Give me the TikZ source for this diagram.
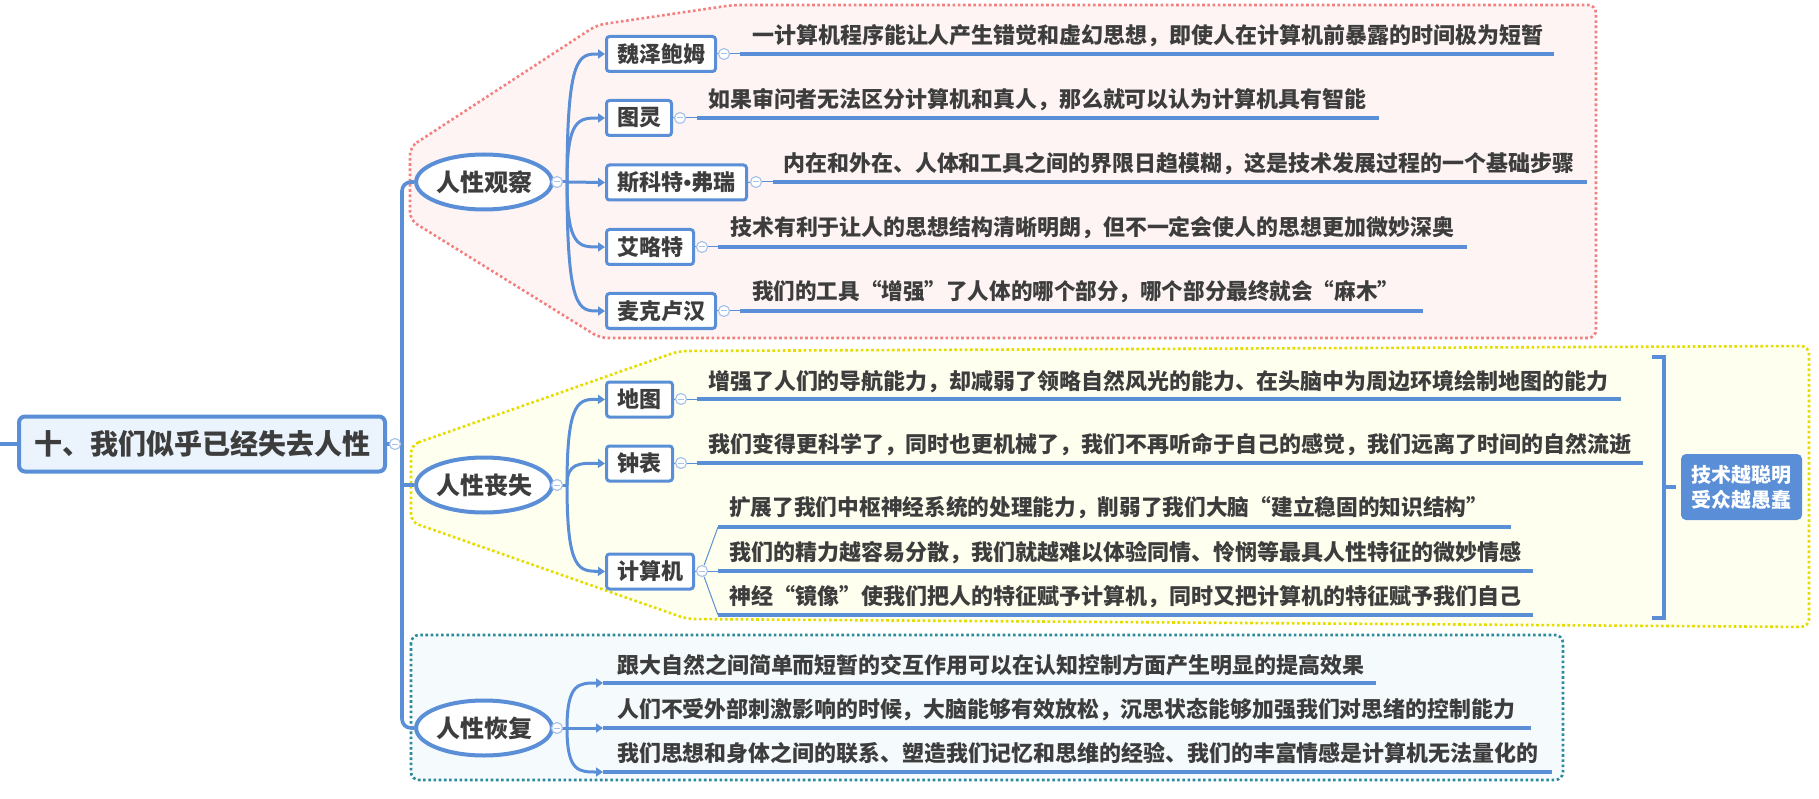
\documentclass[tikz,border=0pt]{standalone}
\usepackage{fontspec}
\usepackage{graphicx}
\setmainfont{Noto Sans CJK SC}
\newfontfamily\latinfont{Liberation Sans}
\usetikzlibrary{shapes.geometric,arrows.meta}
\definecolor{mblue}{HTML}{5A8ED6}
\definecolor{txt}{HTML}{3D3D3D}
\definecolor{rootfill}{HTML}{EBF3FC}
\definecolor{pinkfill}{HTML}{FEF4F4}
\definecolor{pinkline}{HTML}{F47F7F}
\definecolor{yelfill}{HTML}{FFFFF0}
\definecolor{yelline}{HTML}{E5DC00}
\definecolor{cyfill}{HTML}{F5FAFC}
\definecolor{cyline}{HTML}{2B8A9C}
\definecolor{colline}{HTML}{A9C3EA}
\newcommand\fitt[2]{\resizebox{#1pt}{\height}{#2}}
\pgfdeclarelayer{bg}
\pgfdeclarelayer{ln}
\pgfsetlayers{bg,ln,main}
\begin{document}
\begin{tikzpicture}[x=1pt,y=-1pt,
  region/.style={line width=2.6pt, dash pattern=on 2.6pt off 2.6pt, rounded corners=8pt},
  rootbox/.style={draw=mblue, fill=rootfill, line width=4pt, rounded corners=6pt, minimum width=366pt, minimum height=55pt, inner sep=0pt, text=txt, font=\fontsize{28}{32}\selectfont\bfseries},
  grp/.style={ellipse, draw=mblue, fill=white, line width=4pt, minimum width=127pt, minimum height=55pt, inner sep=0pt, text=txt, font=\fontsize{24}{28}\selectfont\bfseries},
  kid/.style={draw=mblue, fill=white, line width=3pt, rounded corners=3pt, minimum height=35pt, inner sep=0pt, text=txt, font=\fontsize{22}{26}\selectfont\bfseries},
  leaf/.style={anchor=west, inner sep=0pt, text=txt, font=\fontsize{22}{26}\selectfont\bfseries},
  uline/.style={draw=mblue, line width=3.2pt},
  thin/.style={draw=mblue, line width=1pt},
  trunk/.style={draw=mblue, line width=3.6pt, rounded corners=9pt},
  branch/.style={draw=mblue, line width=3pt, -{Triangle[length=7pt,width=9pt]}},
  col/.style={circle, draw=colline, fill=white, line width=1.2pt, minimum size=11pt, inner sep=0pt,
    path picture={\draw[colline, line width=1pt] ([xshift=-3pt]path picture bounding box.center) -- ([xshift=3pt]path picture bounding box.center);}},
  sumbox/.style={fill=mblue, rounded corners=5pt, minimum width=121pt, minimum height=66pt, inner sep=0pt, text=white, align=center, font=\fontsize{20}{25}\selectfont\bfseries}
]
\useasboundingbox (0,0) rectangle (1819,799);

% ---------- regions ----------
\begin{pgfonlayer}{bg}
\fill[white] (0,0) rectangle (1819,799);
\draw[region, draw=pinkline, fill=pinkfill] (410,147) -- (597,25) -- (733,5) -- (1596,5) -- (1596,338) -- (600,338) -- (410,220) -- cycle;
\draw[region, draw=yelline, fill=yelfill] (411,445) -- (679,351) -- (1809,346) -- (1809,627) -- (687,619) -- (411,522) -- cycle;
\draw[region, draw=cyline, fill=cyfill] (411,635) rectangle (1563,780);
\end{pgfonlayer}

% ---------- nodes ----------
\node[rootbox] (root) at (202,444) {十、我们似乎已经失去人性};
\node[grp] (g1) at (484,182) {人性观察};
\node[grp] (g2) at (484,485) {人性丧失};
\node[grp] (g3) at (484,728) {人性恢复};

\node[col] (c0) at (395,444) {};
\node[col] (cg1) at (557,182) {};
\node[col] (cg2) at (557,485) {};
\node[col] (cg3) at (557,728) {};

\node[kid, minimum width=109pt] (k11) at (661,54) {魏泽鲍姆};
\node[kid, minimum width=65pt] (k12) at (639,118) {图灵};
\node[kid, minimum width=140pt] (k13) at (676.5,182.5) {斯科特{\latinfont\bfseries •}弗瑞};
\node[kid, minimum width=87pt] (k14) at (650,247) {艾略特};
\node[kid, minimum width=109pt] (k15) at (661,311) {麦克卢汉};
\node[kid, minimum width=66pt] (k21) at (639.5,399.5) {地图};
\node[kid, minimum width=66pt] (k22) at (639.5,463.5) {钟表};
\node[kid, minimum width=87pt] (k23) at (650,571.5) {计算机};

\node[col] (ck11) at (724,54) {};
\node[col] (ck12) at (680,118) {};
\node[col] (ck13) at (756,182) {};
\node[col] (ck14) at (702,247) {};
\node[col] (ck15) at (724,311) {};
\node[col] (ck21) at (681,399) {};
\node[col] (ck22) at (681,463) {};
\node[col] (ck23) at (702,571) {};

\node[leaf] (l11) at (752,36) {\fitt{791}{一计算机程序能让人产生错觉和虚幻思想，即使人在计算机前暴露的时间极为短暂}};
\node[leaf] (l12) at (708,100) {\fitt{658}{如果审问者无法区分计算机和真人，那么就可以认为计算机具有智能}};
\node[leaf] (l13) at (783,164) {\fitt{791}{内在和外在、人体和工具之间的界限日趋模糊，这是技术发展过程的一个基础步骤}};
\node[leaf] (l14) at (730,228) {\fitt{724}{技术有利于让人的思想结构清晰明朗，但不一定会使人的思想更加微妙深奥}};
\node[leaf] (l15) at (752,292) {\fitt{647}{我们的工具“增强”了人体的哪个部分，哪个部分最终就会“麻木”}};
\node[leaf] (l21) at (708,382) {\fitt{900}{增强了人们的导航能力，却减弱了领略自然风光的能力、在头脑中为周边环境绘制地图的能力}};
\node[leaf] (l22) at (708,445) {\fitt{923}{我们变得更科学了，同时也更机械了，我们不再听命于自己的感觉，我们远离了时间的自然流逝}};
\node[leaf] (l23) at (729,508) {\fitt{759}{扩展了我们中枢神经系统的处理能力，削弱了我们大脑“建立稳固的知识结构”}};
\node[leaf] (l24) at (729,553) {\fitt{792}{我们的精力越容易分散，我们就越难以体验同情、怜悯等最具人性特征的微妙情感}};
\node[leaf] (l25) at (729,597) {\fitt{792}{神经“镜像”使我们把人的特征赋予计算机，同时又把计算机的特征赋予我们自己}};
\node[leaf] (l31) at (617,665) {\fitt{747}{跟大自然之间简单而短暂的交互作用可以在认知控制方面产生明显的提高效果}};
\node[leaf] (l32) at (617,710) {\fitt{898}{人们不受外部刺激影响的时候，大脑能够有效放松，沉思状态能够加强我们对思绪的控制能力}};
\node[leaf] (l33) at (617,753) {\fitt{921}{我们思想和身体之间的联系、塑造我们记忆和思维的经验、我们的丰富情感是计算机无法量化的}};

\node[sumbox] (sum) at (1741.5,487) {技术越聪明\\受众越愚蠢};

% ---------- coordinates ----------
\coordinate (edge) at (0,444);
\coordinate (jr) at (402,444);
\coordinate (t1) at (402,182);
\coordinate (t2) at (402,485);
\coordinate (t3) at (402,728);
\coordinate (b1) at (567,182);
\coordinate (b2) at (567,485);
\coordinate (b3) at (567,728);
\coordinate (u11s) at (740,54);  \coordinate (u11e) at (1554,54);
\coordinate (u12s) at (697,118); \coordinate (u12e) at (1379,118);
\coordinate (u13s) at (773,182); \coordinate (u13e) at (1587,182);
\coordinate (u14s) at (718,247); \coordinate (u14e) at (1467,247);
\coordinate (u15s) at (740,311); \coordinate (u15e) at (1423,311);
\coordinate (u21s) at (697,399); \coordinate (u21e) at (1621,399);
\coordinate (u22s) at (697,463); \coordinate (u22e) at (1643,463);
\coordinate (u23s) at (718,527); \coordinate (u23e) at (1511,527);
\coordinate (u24s) at (718,571); \coordinate (u24e) at (1533,571);
\coordinate (u25s) at (718,615); \coordinate (u25e) at (1533,615);
\coordinate (u31s) at (603,683); \coordinate (u31e) at (1376,683);
\coordinate (u32s) at (603,728); \coordinate (u32e) at (1531,728);
\coordinate (u33s) at (603,772); \coordinate (u33e) at (1552,772);
\coordinate (brt) at (1652,357);
\coordinate (brb) at (1652,618);
\coordinate (brm) at (1664,487);

% ---------- connectors ----------
\begin{pgfonlayer}{ln}
\draw[trunk] (edge) -- (root.west);
\draw[trunk] (root.east) -- (jr);
\draw[trunk] (g1.west) -- (t1) -- (t3) -- (g3.west);
\draw[trunk] (t2) -- (g2.west);
\draw[draw=mblue, line width=3pt] (g1.east) -- (b1);
\draw[draw=mblue, line width=3pt] (g2.east) -- (b2);
\draw[draw=mblue, line width=3pt] (g3.east) -- (b3);

\draw[branch] (b1) .. controls (567,54) and (579,54) .. (k11.west);
\draw[branch] (b1) .. controls (567,118) and (579,118) .. (k12.west);
\draw[branch] (b1) -- (k13.west);
\draw[branch] (b1) .. controls (567,247) and (579,247) .. (k14.west);
\draw[branch] (b1) .. controls (567,311) and (579,311) .. (k15.west);

\draw[branch] (b2) .. controls (567,399) and (579,399) .. (k21.west);
\draw[branch] (b2) .. controls (567,463) and (579,463) .. (k22.west);
\draw[branch] (b2) .. controls (567,571) and (579,571) .. (k23.west);

\draw[branch] (b3) .. controls (567,683) and (579,683) .. (u31s);
\draw[branch] (b3) -- (u32s);
\draw[branch] (b3) .. controls (567,772) and (579,772) .. (u33s);

\foreach \k in {11,12,13,14,15,21,22} {
  \draw[thin] (k\k.east) -- (ck\k);
  \draw[thin] (ck\k) -- (u\k s);
}
\draw[thin] (k23.east) -- (ck23);
\draw[thin] (ck23) -- (u23s);
\draw[thin] (ck23) -- (u24s);
\draw[thin] (ck23) -- (u25s);

\foreach \k in {11,12,13,14,15,21,22,23,24,25,31,32,33} {
  \draw[uline] (u\k s) -- (u\k e);
}

\draw[draw=mblue, line width=4pt] (brt) -- (1664,357) -- (1664,618) -- (brb);
\draw[draw=mblue, line width=4pt, shorten >=5pt] (brm) -- (sum.west);
\end{pgfonlayer}
\end{tikzpicture}
\end{document}
